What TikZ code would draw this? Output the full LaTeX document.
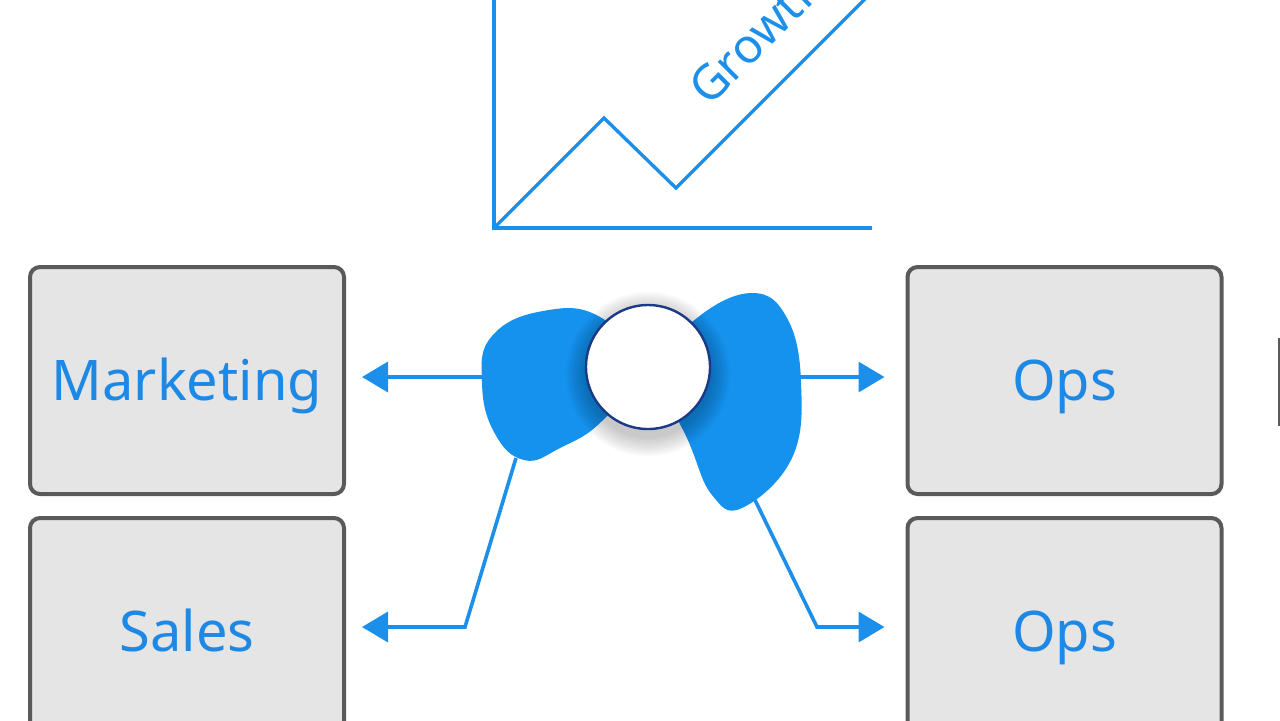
\documentclass[tikz,border=0pt]{standalone}
\usepackage{fontspec}
\setmainfont{Noto Sans}
\usetikzlibrary{arrows.meta}
\definecolor{cblue}{HTML}{1C8FEA}
\definecolor{tblue}{HTML}{1E88E5}
\definecolor{blobblue}{HTML}{1592EE}
\definecolor{boxfill}{HTML}{E5E5E5}
\definecolor{boxline}{HTML}{5A5A5A}
\definecolor{ringblue}{HTML}{1A3A88}
\tikzset{
  dept/.style={draw=boxline, fill=boxfill, line width=2pt, rounded corners=5pt,
    minimum width=157pt, minimum height=113.5pt, inner sep=0pt,
    text=tblue, font=\fontsize{28}{30}\selectfont, text height=20pt, text depth=0pt},
  conn/.style={draw=cblue, line width=1.8pt, line join=miter,
    -{Triangle[length=13pt,width=15pt]}},
  chart/.style={draw=cblue, line width=1.7pt},
  blob/.style={fill=blobblue, draw=none}
}
\begin{document}
\begin{tikzpicture}[x=0.5pt,y=-0.5pt]
\useasboundingbox (0,0) rectangle (1280,720);
% chart
\coordinate (origin) at (494,228);
\coordinate (ytop) at (494,-2);
\coordinate (xend) at (872,228);
\coordinate (peak) at (604,118);
\coordinate (valley) at (676,188);
\coordinate (gend) at (866,-2);
\draw[chart] (ytop) -- (origin) -- (xend);
\draw[chart, line join=miter] (origin) -- (peak) -- (valley) -- (gend);
\node[anchor=base west, rotate=45, text=cblue, font=\fontsize{24}{26}\selectfont, inner sep=0pt] (growth) at (709,108) {Growth};
% boxes
\node[dept] (mkt) at (187,380.5) {Marketing};
\node[dept] (sales) at (187,631.5) {Sales};
\node[dept] (ops1) at (1064.5,380.5) {Ops};
\node[dept] (ops2) at (1064.5,631.5) {Ops};
% blobs
\fill[blob] plot[smooth cycle, tension=0.75] coordinates {(482,382) (492,336) (543,311) (600,317) (640,367) (603,420) (560,448) (524,460) (494,432)};
\fill[blob] plot[smooth cycle, tension=0.7] coordinates {(697,318) (752,293) (787,318) (801,382) (792,458) (742,508) (712,495) (690,445) (660,367)};
% shadow
\foreach \r in {64,66,...,82} {
  \fill[black, opacity=0.025] (648,374) circle (\r);
}
% hub
\node[circle, draw=ringblue, line width=1.2pt, fill=white, minimum size=62pt, inner sep=0pt] (hub) at (648,367) {};
% connector anchors
\coordinate (l1) at (484,377);
\coordinate (l2a) at (516,458);
\coordinate (l2b) at (465,627);
\coordinate (r1) at (799,377);
\coordinate (r2a) at (755,500);
\coordinate (r2b) at (817,627);
\draw[conn, shorten >=8pt] (l1) -- (l1 -| mkt.east);
\draw[conn, shorten >=8pt] (l2a) -- (l2b) -- (l2b -| sales.east);
\draw[conn, shorten >=10.5pt] (r1) -- (r1 -| ops1.west);
\draw[conn, shorten >=10.5pt] (r2a) -- (r2b) -- (r2b -| ops2.west);
% edge mark
\coordinate (m1) at (1279,338);
\coordinate (m2) at (1279,426);
\draw[boxline, line width=1pt] (m1) -- (m2);
\end{tikzpicture}
\end{document}
